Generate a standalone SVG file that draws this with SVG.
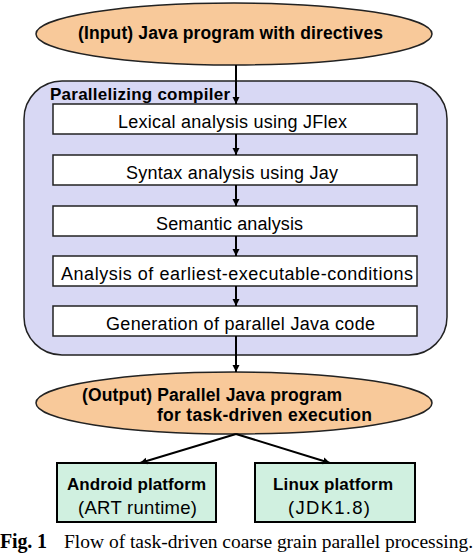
<svg xmlns="http://www.w3.org/2000/svg" width="474" height="556" viewBox="0 0 474 556">
<defs>
<marker id="ah" viewBox="0 0 10 10" refX="10" refY="5" markerWidth="7" markerHeight="8" markerUnits="userSpaceOnUse" orient="auto"><path d="M0,0 L10,5 L0,10 z" fill="#000"/></marker>
<style>
.ell{fill:#f8c99a;stroke:#222;stroke-width:1.5}
.step{fill:#fff;stroke:#222;stroke-width:1.5}
.plat{fill:#d0f0e0;stroke:#000;stroke-width:2}
.b{font-family:"Liberation Sans",Arial,sans-serif;font-weight:bold;fill:#000}
.n{font-family:"Liberation Sans",Arial,sans-serif;fill:#000}
.c{fill:none;stroke:#000;stroke-width:2;marker-end:url(#ah)}
</style>
</defs>
<rect width="474" height="556" fill="#fff"/>
<g id="input">
<ellipse class="ell" cx="234" cy="34" rx="198" ry="31"/>
<text class="b" x="78" y="39" font-size="17.5" textLength="305">(Input) Java program with directives</text>
</g>
<g id="compiler">
<rect x="24" y="81" width="423" height="274" rx="38" fill="#d8d8f4" stroke="#222" stroke-width="1.5"/>
<text class="b" x="50" y="100" font-size="17" textLength="180">Parallelizing compiler</text>
</g>
<g id="lexical">
<rect class="step" x="53" y="104" width="364" height="30"/>
<text class="n" x="118" y="128" font-size="18" textLength="229">Lexical analysis using JFlex</text>
</g>
<g id="syntax">
<rect class="step" x="53" y="155" width="364" height="30"/>
<text class="n" x="126" y="179" font-size="18" textLength="212">Syntax analysis using Jay</text>
</g>
<g id="semantic">
<rect class="step" x="53" y="206" width="364" height="30"/>
<text class="n" x="156" y="230" font-size="18" textLength="147">Semantic analysis</text>
</g>
<g id="earliest">
<rect class="step" x="53" y="256" width="364" height="30"/>
<text class="n" x="61" y="280" font-size="18" textLength="352">Analysis of earliest-executable-conditions</text>
</g>
<g id="generation">
<rect class="step" x="53" y="306" width="364" height="30"/>
<text class="n" x="106" y="330" font-size="18" textLength="269">Generation of parallel Java code</text>
</g>
<g id="output">
<ellipse class="ell" cx="234" cy="403" rx="198" ry="31"/>
<text class="b" x="82" y="401" font-size="17.5" textLength="260">(Output) Parallel Java program</text>
<text class="b" x="157" y="421" font-size="17.5" textLength="215">for task-driven execution</text>
</g>
<g id="android">
<rect class="plat" x="57" y="463" width="159" height="59"/>
<text class="b" x="67" y="490" font-size="17" textLength="139">Android platform</text>
<text class="n" x="78" y="514" font-size="18.5" textLength="119">(ART runtime)</text>
</g>
<g id="linux">
<rect class="plat" x="255" y="463" width="160" height="59"/>
<text class="b" x="273" y="490" font-size="17" textLength="120">Linux platform</text>
<text class="n" x="288" y="514" font-size="18.5" textLength="82">(JDK1.8)</text>
</g>
<g id="connectors">
<line class="c" x1="236" y1="65" x2="236" y2="104"/>
<line class="c" x1="236" y1="134" x2="236" y2="155"/>
<line class="c" x1="236" y1="185" x2="236" y2="206"/>
<line class="c" x1="236" y1="236" x2="236" y2="256"/>
<line class="c" x1="236" y1="286" x2="236" y2="306"/>
<line class="c" x1="236" y1="336" x2="236" y2="372"/>
<line class="c" x1="236" y1="434" x2="140" y2="463"/>
<line class="c" x1="236" y1="434" x2="330" y2="463"/>
</g>
<g id="caption">
<text x="0" y="548" font-family="Liberation Serif,'Times New Roman',serif" font-weight="bold" font-size="20" textLength="47">Fig. 1</text>
<text x="64" y="548" font-family="Liberation Serif,'Times New Roman',serif" font-size="19.5" textLength="409">Flow of task-driven coarse grain parallel processing.</text>
</g>
</svg>
